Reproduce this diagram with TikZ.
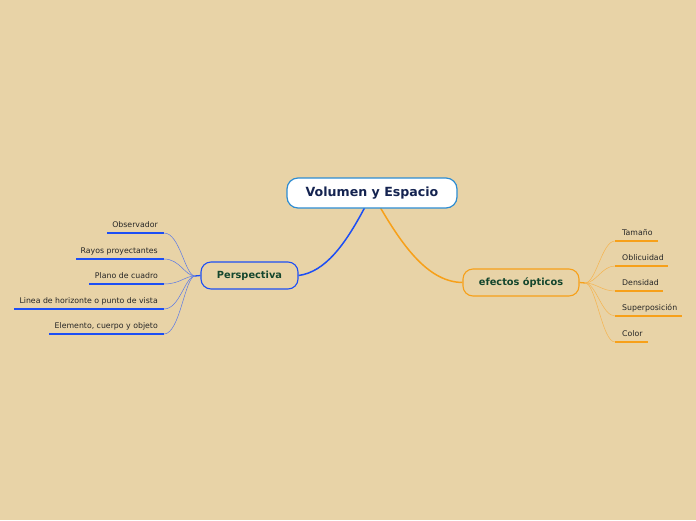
\documentclass[tikz,border=0pt]{standalone}
\usepackage{fontspec}
\setmainfont{DejaVu Sans}
\definecolor{bg}{RGB}{232,211,167}
\definecolor{bl}{RGB}{28,78,245}
\definecolor{lbl}{RGB}{90,120,230}
\definecolor{cb}{RGB}{45,140,210}
\definecolor{or}{RGB}{247,160,25}
\definecolor{lor}{RGB}{245,180,80}
\definecolor{navy}{RGB}{20,35,80}
\definecolor{dg}{RGB}{20,70,45}
\begin{document}
\begin{tikzpicture}[x=1pt,y=-1pt,
  central/.style={draw=cb,line width=1.2pt,fill=white,rounded corners=11pt,minimum width=170pt,minimum height=30pt,font=\bfseries\fontsize{12.6}{14}\selectfont,text=navy,inner sep=0pt},
  mainb/.style={rounded corners=10pt,line width=1.1pt,fill=bg,minimum height=27pt,font=\bfseries\fontsize{9.8}{11}\selectfont,text=dg,inner sep=0pt},
  leaftxt/.style={font=\fontsize{7.8}{9}\selectfont,text=black!85,inner sep=0pt},
  uline/.style={line width=1.6pt},
  twig/.style={line width=0.5pt}]
\useasboundingbox (0,0) rectangle (696,520);
\fill[bg] (0,0) rectangle (696,520);
% main connectors
\coordinate (c1) at (365,207);
\coordinate (c2) at (380,207);
\node[mainb,draw=bl,minimum width=97pt] (p) at (249.5,275.5) {\raisebox{-2.5pt}{Perspectiva}};
\node[mainb,draw=or,minimum width=116pt] (e) at (521,282.5) {\raisebox{-2.5pt}{efectos ópticos}};
\draw[bl,line width=1.5pt] (c1) .. controls (345,245) and (325,272) .. (p.east);
\draw[or,line width=1.5pt] (c2) .. controls (405,250) and (430,282) .. (e.west);
\node[central] (v) at (372,193) {\raisebox{-2pt}{Volumen y Espacio}};
% left leaves
\coordinate (ps) at (195,276);
\draw[bl,line width=1.3pt] (ps) -- (p.west);
\foreach \n/\t/\y/\xl in {a/Observador/233/107, b/Rayos proyectantes/259/76, c/Plano de cuadro/284/89, d/Linea de horizonte o punto de vista/309/14, f/{Elemento, cuerpo y objeto}/334/49}{
  \coordinate (L\n) at (164,\y);
  \coordinate (L\n s) at (\xl,\y);
  \draw[bl,uline] (L\n s) -- (L\n);
  \node[leaftxt,anchor=base east] (T\n) at (158,\y-6) {\t};
  \draw[lbl,twig] (ps) .. controls (185,276) and (180,\y) .. (L\n);
}
% right leaves
\coordinate (es) at (585,283);
\draw[or,line width=1.3pt] (e.east) -- (es);
\foreach \n/\t/\y/\xr in {a/Tamaño/241/658, b/Oblicuidad/266/668, c/Densidad/291/663, d/Superposición/316/682, f/Color/342/648}{
  \coordinate (R\n) at (615,\y);
  \coordinate (R\n e) at (\xr,\y);
  \draw[or,uline] (R\n) -- (R\n e);
  \node[leaftxt,anchor=base west] (U\n) at (622,\y-6) {\t};
  \draw[lor,twig] (es) .. controls (596,283) and (602,\y) .. (R\n);
}
\end{tikzpicture}
\end{document}
